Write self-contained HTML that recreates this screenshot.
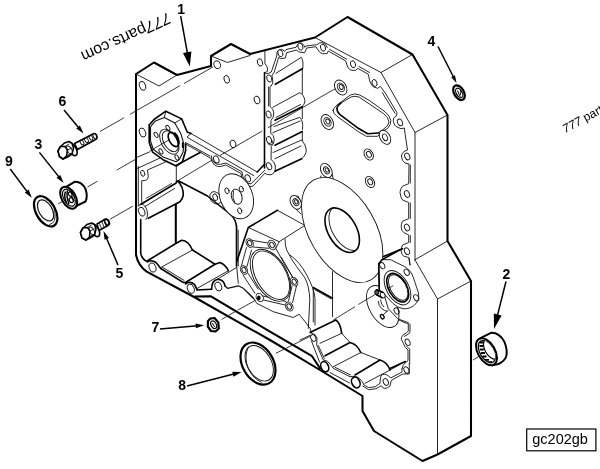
<!DOCTYPE html>
<html>
<head>
<meta charset="utf-8">
<title>gc202gb</title>
<style>
html,body{margin:0;padding:0;background:#fff;}
body{width:600px;height:469px;overflow:hidden;position:relative;font-family:"Liberation Sans",sans-serif;}
svg{position:absolute;left:0;top:0;display:block;will-change:transform;}
.k{fill:none;stroke:#000;stroke-width:2.05;stroke-linejoin:round;stroke-linecap:round;}
.m{fill:none;stroke:#000;stroke-width:1.6;stroke-linejoin:round;stroke-linecap:round;}
.t{fill:none;stroke:#111;stroke-width:0.9;stroke-linejoin:round;stroke-linecap:round;}
.f{fill:#fff;stroke:#111;stroke-width:0.9;stroke-linejoin:round;}
.fm{fill:#fff;stroke:#000;stroke-width:1.6;stroke-linejoin:round;}
.c{fill:none;stroke:#222;stroke-width:0.9;}
.n{font-family:"Liberation Sans",sans-serif;font-weight:bold;font-size:14px;fill:#000;}
.w{font-family:"Liberation Sans",sans-serif;font-size:16px;fill:#000;}
</style>
</head>
<body>
<svg width="600" height="469" viewBox="0 0 600 469">
<!-- 10_outline.svg -->
<g id="outline">
<path class="k" d="M136,255 L136,74 L154,62.5 L177,75 L211,66 L211,56 L231,44 L250,54 L315,37.5 L347.5,17 L412.5,54.5 L447.5,115 L447.5,241 L471,281 L471,436 L437.5,454.5 L422.5,461 L374,431 L362.5,411 L362.5,396 L320,370 L270,340 L195,297.5 L146.7,271.7 Q138.5,266 136,255"/>
<path class="k" d="M195,296.5 L211,296.3 L270,331.7 L311.7,355.8 L320,368.3"/>
</g>
<g id="side">
<path class="t" d="M136,74 L159,86 L177,75"/>
<path class="t" d="M211,56 L227.5,62.5 L250,55.5"/>
<path class="t" d="M315,37.5 L381,72.5 L415,132.5 L415,260 L437.5,299 L437.5,454.5"/>
<path class="t" d="M381,72.5 L412.5,54.5"/>
<path class="t" d="M415,132.5 L447.5,115"/>
<path class="t" d="M414.5,260 L447.5,241"/>
<path class="t" d="M437.5,299 L471,281"/>
</g>

<!-- 20_topleft.svg -->
<g id="topleft">
<!-- holes on front face -->
<ellipse class="f" cx="142.5" cy="85.8" rx="3" ry="4.6" transform="rotate(-18 142.5 85.8)"/>
<ellipse class="f" cx="142.5" cy="132.5" rx="3" ry="4.6" transform="rotate(-18 142.5 132.5)"/>
<ellipse class="f" cx="217.2" cy="64.7" rx="3.2" ry="4" transform="rotate(-18 217.2 64.7)"/>
<ellipse class="f" cx="226.7" cy="79.3" rx="2.6" ry="4" transform="rotate(-18 226.7 79.3)"/>
<ellipse class="f" cx="257" cy="100" rx="2.8" ry="4" transform="rotate(-18 257 100)"/>
<ellipse class="f" cx="260" cy="62.4" rx="2.5" ry="3.8" transform="rotate(-18 260 62.4)"/>
<ellipse class="f" cx="233" cy="144" rx="2.8" ry="4" transform="rotate(-18 233 144)"/>
<!-- thin vertical near gasket -->
<path class="t" d="M264.9,51 L264.9,63.5 Q267.5,66 267.5,69 L267.3,71.5 L264.5,72.7"/>
<path class="m" d="M264.5,72.7 L264.5,168"/>
</g>

<!-- 30_flange.svg -->
<g id="centerlines">
<!-- CL-A bolt 6 -->
<path class="c" d="M100,131.5 L124,117.8 M130,114.3 L180,85.7 M184,83.5 L213,66.9"/>
<!-- CL-B ring9 / bearing3 -->
<path class="c" d="M58,204 L62,201.7 M87.5,187 L97.5,181.2 M116.7,170.1 L136,159 M150,150.9 L170,139.3"/>
<!-- CL-C bolt 5 -->
<path class="c" d="M110,219.3 L133,206 M146,198.4 L172,183.3 M178.5,180.3 L212,160.1 M220,155.5 L262,131.1 M268,127.7 L336,88.2"/>
</g>
<g id="flange">
<!-- thin line from left edge to flange -->
<path class="t" d="M136.5,157.5 L149.8,151.8"/>
<!-- outer (back) outline of boss -->
<path class="m" d="M149.2,125.1 L154,119.5 L165.8,111.2 L181.7,118.9 L187.2,132 L191,133.5"/>
<path class="m" d="M149.2,125.1 L149.2,142.4 L152.6,152.1 L163,159.7 L176.2,166 L182.4,161.8 L185.6,150.7 L185.6,143.8"/>
<!-- front face outline -->
<path class="t" style="stroke-width:1.1" d="M151.2,125.8 L155.4,120.9 L164.4,117.5 L174.8,123 L181,134.1 L183.8,143.8 L183.1,152.1 L179.6,159 L176.2,161.8 L163,156.9 L153.3,149.3 L150.5,141 L150.5,127.2 Z"/>
<path class="t" d="M165.8,111.2 L164.4,117.5 M181.7,118.9 L174.8,123"/>
<!-- ring -->
<ellipse class="t" cx="169.3" cy="141.7" rx="7.9" ry="13.7" transform="rotate(-30 169.3 141.7)"/>
<ellipse class="t" cx="170.3" cy="141.2" rx="6.6" ry="11.4" transform="rotate(-30 170.3 141.2)"/>
<ellipse class="m" cx="173.5" cy="139.5" rx="4.3" ry="7.8" transform="rotate(-30 173.5 139.5)"/>
<path d="M174.5,132.5 Q180.5,137.5 178.3,146 Q178.5,139 174.5,132.5 Z" fill="#000" stroke="#000" stroke-width="1.3"/>
<!-- small holes -->
<ellipse class="t" cx="156.1" cy="134.8" rx="1.6" ry="2.9" transform="rotate(-30 156.1 134.8)"/>
<ellipse class="t" cx="167.9" cy="127.9" rx="1.6" ry="2.9" transform="rotate(-30 167.9 127.9)"/>
<ellipse class="t" cx="160.9" cy="151.4" rx="1.6" ry="2.9" transform="rotate(-30 160.9 151.4)"/>
<ellipse class="t" cx="176.9" cy="157.6" rx="1.6" ry="2.9" transform="rotate(-30 176.9 157.6)"/>
<path class="m" d="M182.6,143 L182.8,147.5"/>
<!-- arm -->
<path class="t" d="M191,133.5 L257.2,172"/>
<path class="t" d="M191,133.5 L187.3,136.8"/>
<path class="t" d="M187.5,137.5 L253.8,175.6"/>
<path class="t" d="M185.5,142.5 L210,156"/>
</g>

<!-- 40_leftpocket.svg -->
<g id="leftpocket">
<!-- second line next to left edge -->
<path class="t" d="M138.3,166.5 L138.3,206"/>
<!-- gasket outer line below flange -->
<path class="t" d="M137.5,168.3 L160.5,157.8"/>
<!-- gasket inner w/ boss -->
<path class="t" d="M167,161.3 L147.5,170 L148.3,176.7 Q147.8,180 145.8,180.3 L141.7,180.8 L141.7,202.5"/>
<ellipse class="f" cx="142.7" cy="173.3" rx="2" ry="3" transform="rotate(-18 142.7 173.3)"/>
<!-- vertical from flange bottom -->
<path class="t" d="M176.3,164.5 L176.3,182"/>
<path class="m" d="M177.5,164.8 L200.5,152.3"/>
<!-- rib 1 -->
<path class="m" d="M140.5,204.5 L175.8,183.3 L177.5,180.8 Q183.5,187 183.3,195 Q182.5,199.5 180,201.7 L148.3,218.3"/>
<path class="t" d="M145,206.5 L174.5,188.5"/>
<ellipse class="f" cx="141.7" cy="211.7" rx="3" ry="4.6" transform="rotate(-18 141.7 211.7)"/>
<path class="t" d="M138.5,206 Q140,203 143,204.5 Q147,207 147.5,214 Q147.5,218 146,219.5"/>
<!-- pocket wall -->
<path class="k" d="M175.8,204.5 L175.8,242"/>
<path class="m" d="M178.3,180.8 L207.5,196 L230,214 Q236,219 236.5,227 L236.5,266"/>
<!-- inner gasket line going down left -->
<path class="m" d="M140.7,219.5 L140.7,253 Q141.5,259 147.5,261.7"/>
<!-- rib 2 -->
<ellipse class="f" cx="152.5" cy="267.5" rx="3.3" ry="4.8" transform="rotate(-18 152.5 267.5)"/>
<path class="m" d="M147.5,261.7 Q152,259.5 156,262.5 Q159,266 160.8,268.5"/>
<path class="m" d="M147.5,260.8 L175.8,243.5 L181.7,240.2 Q188.5,240.5 192.5,250"/>
<path class="t" d="M192.5,250 L160.8,267.5"/>
<path class="m" d="M192.5,250 L215,264.2"/>
<path class="m" d="M160.8,268.5 L182.5,282 Q185,283 186.7,282"/>
<path class="t" d="M162.5,267.3 L184,280.3"/>
<!-- rib 3 -->
<path class="m" d="M186.7,281.7 L215,264.2 L220,262.5 Q226,265 228.3,270.8"/>
<path class="t" d="M228.3,270.8 L197,288.5"/>
<ellipse class="f" cx="190.8" cy="288.8" rx="3.3" ry="4.8" transform="rotate(-18 190.8 288.8)"/>
<path class="m" d="M185.5,284 Q190,280.5 194.5,284.5 Q196.5,288 197,290 L211.5,289.2"/>
<!-- rib 4 -->
<ellipse class="f" cx="218.3" cy="286.5" rx="3.2" ry="4.6" transform="rotate(-18 218.3 286.5)"/>
<path class="m" d="M211.7,289.2 Q211.5,280.5 217.5,279.2 Q224,279.5 225,286"/>
<path class="t" d="M225,286 L227.5,288.3 L238.3,285.8 L243.3,288.3 L253.5,298.5" style="stroke-width:1.2"/>
<path class="t" d="M217.5,279.2 L236.5,267.5"/>
<path class="t" d="M236.7,225 L236.7,266.7 L238.3,283.3"/>
<path class="t" d="M238.2,230 L238.2,266"/>
</g>

<!-- 50_arm_disc.svg -->
<g id="arm">
<!-- lower wavy edge of arm with bosses: outer c' -->
<path class="t" d="M186,144.2 L210.8,158.3 Q211.8,162.5 214.5,165 Q217.5,167.3 221,166.4 L225.8,165 L241,173.5 Q241.3,179.5 244.5,183.8 Q247.5,186.8 251,186.5 L253,186 L264.8,173.3 Q267,175 271,174.8 Q274.5,173.5 275.3,170 L275.3,166"/>
<!-- inner c -->
<path class="t" d="M211.3,155.8 Q211.5,159.5 213.8,162.3 Q217,165.3 220.5,164.3 L226,163 L242,171.8 Q242.3,177 245,181 Q247.5,184.3 251,183.8 L264.7,170.3"/>
<ellipse class="f" cx="216.3" cy="159.4" rx="2.5" ry="3.7" transform="rotate(-25 216.3 159.4)"/>
<ellipse class="f" cx="247.8" cy="178.3" rx="2.5" ry="3.7" transform="rotate(-25 247.8 178.3)"/>
<ellipse class="f" cx="269.1" cy="166.2" rx="2.4" ry="3.6" transform="rotate(-25 269.1 166.2)"/>
<ellipse class="f" cx="269.8" cy="141.5" rx="2.4" ry="3.6" transform="rotate(-18 269.8 141.5)"/>
</g>
<g id="disc">
<ellipse class="f" cx="236.2" cy="196.2" rx="16.2" ry="23.3" transform="rotate(-22 236.2 196.2)"/>
<ellipse class="t" cx="236.7" cy="196.7" rx="5.2" ry="7.8" transform="rotate(-18 236.7 196.7)"/>
<path class="t" d="M233.5,191 Q231.5,197 235,203.5"/>
<ellipse class="t" cx="227" cy="190.8" rx="2" ry="3" transform="rotate(-18 227 190.8)"/>
<ellipse class="t" cx="241.3" cy="189.2" rx="2" ry="3" transform="rotate(-18 241.3 189.2)"/>
<ellipse class="t" cx="239.7" cy="210.8" rx="2" ry="3" transform="rotate(-18 239.7 210.8)"/>
<!-- lug left -->
<path class="t" d="M219.8,195 Q216,190.5 212,192 Q209,194 210,198.5 Q212,203.5 216.5,204 Q219,204 220.5,202.5"/>
<ellipse class="t" cx="215.2" cy="197.2" rx="2.3" ry="3.5" transform="rotate(-18 215.2 197.2)"/>
</g>

<!-- 55_ribs.svg -->
<g id="ribs">
<!-- left band outer: thick vertical, then to arm -->
<path class="m" d="M264.6,164.3 L257.2,172"/>
<!-- inner band line with bosses -->
<path class="t" d="M271.5,85.5 L270,86.5 L270,106.5 Q273.5,108.5 273.8,113 Q274,117.5 271,120.5 L270.7,133 Q274,135 274.2,139.5 Q274.2,144 271.3,146.5 L271,159.5 Q274.8,161.5 275.3,166"/>
<path class="t" d="M268.6,87 L268.6,106"/>
<ellipse class="f" cx="269.3" cy="78.5" rx="2.4" ry="3.7" transform="rotate(-18 269.3 78.5)"/>
<ellipse class="f" cx="268.6" cy="114.5" rx="2.4" ry="3.7" transform="rotate(-18 268.6 114.5)"/>
<ellipse class="f" cx="269" cy="140" rx="2.4" ry="3.7" transform="rotate(-18 269 140)"/>
<!-- rib1 -->
<path class="t" d="M276,73.3 L301.3,57.3 Q303.8,61 302.7,68.7"/>
<path class="m" d="M275.3,84.3 L302.3,68.7"/>
<path class="t" d="M302.3,68.7 L302.3,93.5"/>
<!-- rib2 -->
<path class="t" d="M272.8,107.3 L299.7,92.7 Q304,94.5 305,101 Q304.5,104.5 302.3,106.5"/>
<path class="t" d="M276,117.5 L300.5,104.5"/>
<path class="m" d="M275,120.3 L302.3,106.7"/>
<path class="t" d="M302.3,106.7 L302.3,118.5"/>
<!-- rib3 -->
<path class="t" d="M274,126.5 L299.7,117.3 Q303.5,120.5 302.5,129.5"/>
<path class="t" d="M272.8,132.7 L300,121"/>
<path class="m" d="M275,145.3 L302.3,131.5"/>
<path class="t" d="M302.3,131.5 L302.3,140.5"/>
<!-- rib4 -->
<path class="t" d="M273,152.5 L301.7,140 Q306,145 306.3,150 Q306,155.5 301.7,158.7"/>
<path class="t" d="M275,158.7 L301,146"/>
<path class="m" d="M275,171.3 L301.7,158.7"/>
</g>

<!-- 60_topgasket.svg -->
<g id="topgasket">
<!-- outer line from boss A up and along top -->
<path class="t" d="M264.6,72.7 Q266,74.2 268.7,73.3 L271.3,72 L276.7,56 Q276.5,51 278.7,50 Q282,48 284.7,51.3 L286,49.5 L296,47.3 Q297.5,43.5 300,43 Q303.5,43 304.7,47.3 L306,46 L316.7,44.7 Q319.5,42.5 322,42.5 Q326.5,43.5 327.3,47.5"/>
<!-- inner line -->
<path class="t" d="M271.5,85.5 Q273.5,83 272.7,80.7 L272,75.3 L274,72.7 L278.7,57.3 L280.7,58.7 L285.3,58 L286.7,52.7 L296.7,50 L298.7,52 L304.7,52.7 L306.7,48 L316,46.7 L318,50 Q320,53.5 322.7,53.7 L327,53.7 L328.3,51 L345.7,61 L347.7,67 Q349.5,70.3 351.7,70.3 L355.7,70.3 L357.7,68.3 L368.3,74.3 L369.7,81 Q371.5,86 373.7,87 L377.7,88.3 L380.3,86.3 L385.7,93.7"/>
<!-- second (double) line -->
<path class="t" d="M329.5,49.3 L346.7,59.3 M359,66.5 L369.5,72.5"/>
<ellipse class="f" cx="280.4" cy="53.3" rx="2.4" ry="3.6" transform="rotate(-18 280.4 53.3)"/>
<ellipse class="f" cx="300.4" cy="46.6" rx="2.4" ry="3.6" transform="rotate(-18 300.4 46.6)"/>
<ellipse class="f" cx="323" cy="47.7" rx="2.4" ry="3.6" transform="rotate(-18 323 47.7)"/>
<ellipse class="f" cx="353" cy="64.2" rx="2.4" ry="3.6" transform="rotate(-18 353 64.2)"/>
<ellipse class="f" cx="374.5" cy="83" rx="2.4" ry="3.6" transform="rotate(-18 374.5 83)"/>
</g>

<!-- 62_slot_disc.svg -->
<g id="slot">
<path class="t" d="M333,110.3 Q334,107.5 337,105 L350.3,95 Q355,92.8 359.7,95 L369,100.3 L385,111.7 Q390,116 390.8,120.5 Q391,125 387.7,128.3 L381,132.3 L377.7,136.3 L366.3,136.3 L358.3,131.7 L337,116.3 Q333,113.5 333,110.3 Z"/>
<path class="m" d="M378.3,133 L367.7,133.7 L358.3,128.3 L339.7,114.3 Q336.5,111 337,107.5 Q338.5,104.5 341,103"/>
<path class="t" d="M341,103 L351,97 Q355,95.5 359,97 L383.7,113.7 Q388.5,117.5 389,122 Q388.5,126 383.7,129 L378.3,133"/>
<!-- lug -->
<ellipse class="f" cx="385" cy="137.3" rx="5" ry="7.6" transform="rotate(-30 385 137.3)"/>
<ellipse class="t" cx="385" cy="137.3" rx="2.3" ry="3.5" transform="rotate(-25 385 137.3)"/>
</g>
<g id="csk">
<ellipse class="f" cx="340.7" cy="87.5" rx="5.6" ry="8" transform="rotate(-30 340.7 87.5)"/>
<ellipse class="t" cx="340.9" cy="87.3" rx="3.3" ry="4.6" transform="rotate(-30 340.9 87.3)"/>
<ellipse class="t" cx="341.2" cy="87" rx="1.8" ry="2.6" transform="rotate(-30 341.2 87)"/>
<ellipse class="f" cx="327.3" cy="122" rx="5.6" ry="8" transform="rotate(-30 327.3 122)"/>
<ellipse class="t" cx="327.5" cy="121.8" rx="3.3" ry="4.6" transform="rotate(-30 327.5 121.8)"/>
<ellipse class="t" cx="327.8" cy="121.5" rx="1.8" ry="2.6" transform="rotate(-30 327.8 121.5)"/>
<ellipse class="f" cx="368.7" cy="154.5" rx="4.2" ry="6" transform="rotate(-30 368.7 154.5)"/>
<ellipse class="t" cx="368.9" cy="154.3" rx="2.2" ry="3.2" transform="rotate(-30 368.9 154.3)"/>
<ellipse class="f" cx="370" cy="182" rx="4.2" ry="6" transform="rotate(-30 370 182)"/>
<ellipse class="t" cx="370.2" cy="181.8" rx="2.2" ry="3.2" transform="rotate(-30 370.2 181.8)"/>
</g>
<g id="bigdisc">
<!-- lugs behind disc -->
<path class="t" d="M320.8,176 L321.3,183 M332,173.5 L333.7,181.3"/>
<ellipse class="f" cx="326.3" cy="170.5" rx="5.2" ry="7.6" transform="rotate(-30 326.3 170.5)"/>
<ellipse class="t" cx="326.5" cy="170.3" rx="2.6" ry="3.8" transform="rotate(-30 326.5 170.3)"/>
<ellipse class="t" cx="326.8" cy="170" rx="1.5" ry="2.2" transform="rotate(-30 326.8 170)"/>
<path class="t" d="M298,196 L302.5,206 M296,209.3 L301,214"/>
<ellipse class="f" cx="295.7" cy="202.3" rx="5" ry="7.4" transform="rotate(-30 295.7 202.3)"/>
<ellipse class="t" cx="295.9" cy="202.1" rx="2.6" ry="3.8" transform="rotate(-30 295.9 202.1)"/>
<ellipse class="t" cx="296.2" cy="201.8" rx="1.5" ry="2.2" transform="rotate(-30 296.2 201.8)"/>
<ellipse class="f" cx="342.2" cy="230" rx="33.2" ry="57.5" transform="rotate(-30 342.2 230)"/>
<clipPath id="boreclip"><ellipse cx="342.2" cy="230.2" rx="14.1" ry="24.4" transform="rotate(-30 342.2 230.2)"/></clipPath>
<ellipse class="m" cx="342.2" cy="230.2" rx="14.1" ry="24.4" transform="rotate(-30 342.2 230.2)"/>
<g clip-path="url(#boreclip)"><ellipse class="t" cx="346.2" cy="228.2" rx="14.1" ry="24.4" transform="rotate(-30 346.2 228.2)"/></g>
</g>
<g id="rightgasket">
<path class="t" d="M385.7,93.7 L397,112.7 L396.3,116 L393.7,118 Q393,120.5 393.7,122.7 Q394.5,125.5 396.3,126.7 L401,128.7 L404.3,128 L405,133.3 L406.3,142 L407.5,150 Q402,151.5 401.5,156 Q401.5,161 405,163 L409,164 L408.7,183.7 L402.5,186.2 Q400,189 400,192.5 Q400.5,197.5 402.5,200 L408.7,202.5 L408.7,218.7 L402.5,221.2 Q401,224 401.2,227.5 Q401.5,230.5 403.7,232.5 L408.7,235 L408.7,242.5 L402.5,245 Q401,248 401.2,251.2 Q401.5,254.5 403.7,256.2 L408.7,257.5 L410,265"/>
<path class="t" d="M382.3,92.7 L395,113.3"/>
<path class="t" d="M410.3,165 L410.3,183 M410.3,203 L410.3,218.5 M410.3,235.5 L410.3,242.5"/>
<ellipse class="f" cx="400" cy="122.4" rx="2.4" ry="3.5" transform="rotate(-25 400 122.4)"/>
<ellipse class="f" cx="407.3" cy="156.5" rx="2.4" ry="3.5" transform="rotate(-25 407.3 156.5)"/>
<ellipse class="f" cx="407" cy="194" rx="2.4" ry="3.5" transform="rotate(-25 407 194)"/>
<ellipse class="f" cx="407" cy="227.5" rx="2.4" ry="3.5" transform="rotate(-25 407 227.5)"/>
<ellipse class="f" cx="407" cy="251.2" rx="2.4" ry="3.5" transform="rotate(-25 407 251.2)"/>
</g>

<!-- 65_center.svg -->
<g id="box">
<path class="m" d="M236.7,261.7 L248.3,227.5 L277.5,210.3"/>
<path class="t" d="M277.5,210.3 L304.2,225"/>
<path class="t" d="M248.3,227.5 L279.2,241.7 L304.2,225.8"/>
<!-- curves below box -->
<path class="t" d="M279.2,241.7 Q277,246 275.8,248.3 L285,265 L293.3,278"/>
<path class="t" d="M285,239 Q285,246 286.7,250 Q291,259 296.7,266.7 L305,278 Q309.5,287 309.8,300 L308.3,328.3"/>
<path class="t" d="M290,255 Q300,262 306.7,275 Q314,288 315,298.3 L315,325"/>
</g>
<g id="ovalport">
<!-- bands between holes -->
<path class="t" d="M252.5,240.5 L268,243 M253,247 L268.5,248.3"/>
<path class="t" d="M246.5,247.5 L241.5,265.5 M251.5,250 L246.8,267"/>
<path class="t" d="M243,275 L255,293.3 M247.5,272.5 L258,289"/>
<path class="t" d="M263.5,300 L285,305 M263,296 L286,301.5"/>
<path class="t" d="M292.5,302.5 L296.5,286 M288.5,301 L292,286"/>
<path class="t" d="M292.5,277 L281.5,257.5"/>
<!-- inner oval double -->
<ellipse class="f" cx="270.4" cy="275.3" rx="16.5" ry="28.5" transform="rotate(-30 270.4 275.3)"/>
<ellipse class="t" cx="271" cy="275.2" rx="15" ry="26.6" transform="rotate(-30 271 275.2)"/>
<!-- holes -->
<ellipse class="f" cx="249.7" cy="243" rx="3.3" ry="4.6" transform="rotate(-30 249.7 243)"/>
<ellipse class="t" cx="249.7" cy="243" rx="1.9" ry="2.8" transform="rotate(-30 249.7 243)"/>
<ellipse class="f" cx="272" cy="245" rx="3.6" ry="5" transform="rotate(-30 272 245)"/>
<ellipse class="t" cx="272" cy="245" rx="2" ry="3" transform="rotate(-30 272 245)"/>
<ellipse class="f" cx="244" cy="270" rx="3.3" ry="4.6" transform="rotate(-30 244 270)"/>
<ellipse class="t" cx="244" cy="270" rx="1.9" ry="2.8" transform="rotate(-30 244 270)"/>
<ellipse class="f" cx="294.2" cy="281.7" rx="3.3" ry="4.6" transform="rotate(-30 294.2 281.7)"/>
<ellipse class="t" cx="294.2" cy="281.7" rx="1.9" ry="2.8" transform="rotate(-30 294.2 281.7)"/>
<ellipse class="f" cx="289.2" cy="306.5" rx="3.5" ry="4.8" transform="rotate(-30 289.2 306.5)"/>
<ellipse class="t" cx="289.2" cy="306.5" rx="2" ry="2.9" transform="rotate(-30 289.2 306.5)"/>
<ellipse class="f" cx="259.7" cy="297.5" rx="3.3" ry="4.4" transform="rotate(-30 259.7 297.5)"/>
<ellipse cx="258.8" cy="298" rx="1.8" ry="2.4" fill="#000"/>
<!-- lower gasket line -->
<path class="t" d="M243.3,288.3 L253.3,297.5 L256.7,303.3 L273.3,311.7 L293.3,317.5 L299.2,314.2 L305,321.7 L310,328.3 L311.5,333"/>
<!-- CL7 -->
<path class="c" d="M221.5,319.5 L235,311.7 M237.7,310.2 L255.5,300.2"/>
</g>
<g id="web">
<path class="t" d="M332.5,271.7 L332.5,316.7"/>
<path class="m" d="M313.3,287.5 L332.5,298.3"/>
<path class="t" d="M313.3,287.5 L313.3,322"/>
<path class="t" d="M315,289.8 L331,298.8"/>
</g>

<!-- 70_right.svg -->
<g id="smalldisc">
<ellipse class="f" cx="382.7" cy="306.5" rx="13.3" ry="23" transform="rotate(-30 382.7 306.5)"/>
</g>
<g id="brghousing">
<!-- flange -->
<path class="f" d="M382,259.7 L390.7,259.7 L404,266.3 Q411,270 413.5,278 L418.5,293 Q420,299 416.5,303 Q411,309.5 403,308.7 Q397,307.5 393,303.5 L383.7,293.3 L379.3,290.3 L378.7,263.7 Z"/>
<path class="m" d="M400,249.7 L382,259.7 L378.7,263.7 L379.3,290.3"/>
<path class="t" d="M383.7,293.3 L388.3,308.7 L397.7,318.7 L408.3,322.7"/>
<!-- bore -->
<ellipse class="t" cx="397.5" cy="287.7" rx="11" ry="18.8" transform="rotate(-30 397.5 287.7)"/>
<ellipse class="m" cx="397.7" cy="287.7" rx="9" ry="15.6" transform="rotate(-30 397.7 287.7)"/>
<ellipse class="t" cx="398.2" cy="287.5" rx="7.8" ry="14" transform="rotate(-30 398.2 287.5)"/>
<path class="c" d="M387.3,289 L393.3,285.7"/>
<!-- holes -->
<ellipse class="t" cx="382.3" cy="265.7" rx="2.3" ry="3.3" transform="rotate(-30 382.3 265.7)"/>
<ellipse class="t" cx="406.7" cy="272.3" rx="2.3" ry="3.3" transform="rotate(-30 406.7 272.3)"/>
<ellipse class="t" cx="416.2" cy="297.8" rx="2.3" ry="3.3" transform="rotate(-30 416.2 297.8)"/>
<ellipse class="t" cx="396.6" cy="311" rx="2.3" ry="3.3" transform="rotate(-30 396.6 311)"/>
<!-- studs -->
<ellipse cx="376.7" cy="292.3" rx="2" ry="2.6" fill="#555" stroke="#000" stroke-width="1"/>
<ellipse class="f" cx="382.7" cy="295" rx="2.2" ry="3" transform="rotate(-30 382.7 295)"/>
<path class="m" d="M376.7,289.8 L382.7,292.2 M376.7,294.8 L382,297.8"/>
<!-- small arcs -->
<path class="t" d="M378.3,301.3 Q378.5,306 381.7,308.5 Q384,310.8 387,311.3"/>
<path class="t" d="M380.5,300 Q381,304.5 383.7,306.8"/>
<ellipse cx="382.3" cy="316.7" rx="1.6" ry="2.4" fill="none" stroke="#000" stroke-width="1.3" transform="rotate(-30 382.3 316.7)"/>
<path class="t" d="M383.5,314.5 L388,310.5"/>
<!-- CL -->
<path class="c" d="M333.3,320 L355,306.7 M358.3,304.5 L375,294.5"/>
<!-- gasket pieces -->
<path class="t" d="M410,265 L409.3,258.3"/>
<path class="t" d="M399,320 L406.3,323.3 L408.3,323.3 L408.3,331 L406.7,332.7 L402.7,335.3 Q401,337.5 401.3,339.3 L403.3,343.3 L405.3,347.3 L408,350 L408,360.7 L405.3,362.7 Q402.5,365 402,368.7"/>
<path class="t" d="M410,324 L410,332 L408.5,334 L404.5,336.3 M407,346.5 L409.7,349.3 L409.7,363.5"/>
<ellipse class="f" cx="407.6" cy="342.3" rx="2.3" ry="3.4" transform="rotate(-25 407.6 342.3)"/>
<ellipse class="f" cx="406.4" cy="370" rx="2.3" ry="3.4" transform="rotate(-25 406.4 370)"/>
<!-- disc to housing line -->
<path class="m" d="M383.5,256.5 L402.5,248.7"/>
</g>

<!-- 75_lower.svg -->
<g id="lowerribs">
<path class="t" d="M300,340 L310.8,335"/>
<!-- rib A -->
<path class="m" d="M310,332.5 L335.8,320 Q340.5,323 341.7,333.3"/>
<path class="t" d="M320,343.3 L341.7,333.3"/>
<path class="t" d="M341.7,333.3 L350,342.5"/>
<!-- rib B -->
<path class="m" d="M325,355.8 L350,342.5 Q357,344 360.8,352.5"/>
<path class="t" d="M333.3,366.7 L360.8,352.5"/>
<path class="t" d="M360.8,352.5 L380,360"/>
<!-- rib C -->
<path class="m" d="M355,375 L380,360 Q387,362 390,370"/>
<path class="t" d="M365,383.3 L390,370 L400,364.5"/>
<!-- gasket inner double with bosses -->
<path class="t" d="M311.5,333 Q316,334 317,338 L316.7,345 L323.3,360 Q328,360 330.8,365 L333.3,368.3 L350,376.7 Q356,375.5 359.5,378.5 Q361.5,380.5 362,381.3 L364,385 L368.7,387.6 L375.3,386.7 L380,383.3 Q380,378.5 381,376 Q384,372.5 388.7,376 L390.7,378 L402,372 L402,368.7"/>
<path class="t" d="M318.3,345.5 L324.3,358.5 M335,367.3 L350.5,375"/>
<path class="m" d="M390,368.5 L405.3,361.5"/>
<ellipse class="f" cx="313.3" cy="338" rx="2.4" ry="3.5" transform="rotate(-25 313.3 338)"/>
<ellipse class="fm" cx="324.7" cy="366.7" rx="3.7" ry="5.3" transform="rotate(-25 324.7 366.7)"/>
<ellipse class="fm" cx="355.8" cy="382.5" rx="4" ry="5.6" transform="rotate(-25 355.8 382.5)"/>
<ellipse class="f" cx="385.8" cy="382" rx="2.4" ry="3.5" transform="rotate(-25 385.8 382)"/>
<!-- outer gasket line -->
<path class="t" d="M311.5,341 L319.5,362 M330,372.5 L349.5,383 M362.7,386 L368.7,389.7 L376,388.7 L381.3,385.7 Q384,391 390,386 L391.3,380.4 L402.7,374 L409.3,374 L409.3,363.5"/>
<!-- CL8 -->
<path class="c" d="M275.8,353.3 L311,336"/>
</g>

<!-- 80_loose.svg -->
<g id="bolt6">
<!-- shaft -->
<path class="fm" d="M74.5,143.5 L94,133.5 Q96.5,133.5 96.8,136.5 Q96.8,138.3 96.5,139 L77.5,149.5 Z"/>
<ellipse class="t" cx="95" cy="136.2" rx="1.7" ry="3" transform="rotate(-30 95 136.2)"/>
<ellipse class="t" cx="82" cy="142.5" rx="1.6" ry="2.6" transform="rotate(-30 82 142.5)"/>
<ellipse class="t" cx="86.5" cy="140.2" rx="1.6" ry="2.6" transform="rotate(-30 86.5 140.2)"/>
<ellipse class="t" cx="91" cy="137.8" rx="1.6" ry="2.6" transform="rotate(-30 91 137.8)"/>
<!-- flange -->
<ellipse class="fm" cx="72.5" cy="149.3" rx="3.6" ry="7" transform="rotate(-30 72.5 149.3)"/>
<!-- head body -->
<path class="fm" d="M60.5,146.5 L64.5,143 L69,141.5 L72,143.2 L73.5,148 L72,154 L67.5,157 L63,159 L59.5,156.5 L58,151 Z"/>
<path class="fm" d="M58,151 L60.5,146.5 L65,146.5 L67.5,150 L66.5,156 L63,159 L59.5,156.5 Z"/>
<path class="t" d="M65,146.5 L69,144 M67.5,150 L71.5,148 M66.5,156 L70.5,153.5"/>
<ellipse class="t" cx="69.5" cy="150" rx="2.2" ry="4.4" transform="rotate(-30 69.5 150)"/>
</g>
<g id="bolt5">
<path class="fm" d="M97,224 L105,219.3 Q108.5,219 109,222 Q109,224.5 108,225.5 L99,230.5 Z"/>
<ellipse class="m" cx="107" cy="222.2" rx="2" ry="3.3" transform="rotate(-30 107 222.2)"/>
<path class="t" d="M99.5,223.5 L101.5,228.5 M102,222 L104,227 M104.3,220.8 L106,225.5"/>
<ellipse class="fm" cx="95" cy="230.3" rx="3.6" ry="7" transform="rotate(-30 95 230.3)"/>
<path class="fm" d="M83,228 L87,224.5 L91.5,223 L94.5,224.5 L96,229 L94.5,235 L90,238 L86,240 L82,238 L80.5,232.5 Z"/>
<path class="fm" d="M80.5,232.5 L83,228 L87.5,227.5 L90,231 L89.5,237 L86,240 L82,238 Z"/>
<path class="t" d="M87.5,227.5 L91.5,225 M90,231 L94,229 M89.5,237 L93.5,234.5"/>
<ellipse class="t" cx="92" cy="231" rx="2.2" ry="4.4" transform="rotate(-30 92 231)"/>
</g>
<g id="ring9">
<ellipse cx="45.7" cy="211.3" rx="9.6" ry="16.6" transform="rotate(-30 45.7 211.3)" fill="#fff" stroke="#000" stroke-width="2.2"/>
<ellipse class="t" cx="45.6" cy="210.4" rx="6.6" ry="11.6" transform="rotate(-30 45.6 210.4)" style="stroke-width:1.2"/>
<path class="t" d="M52.5,203.5 Q56.5,212 54.5,220.5 Q53,224 49.5,224.5"/>
</g>
<g id="brg3">
<path d="M64.5,187.8 L75,181.7 Q82,181.5 85.5,189 Q88,196.5 85.5,201.5 L73,207.7 Z" fill="#fff" stroke="#000" stroke-width="2" stroke-linejoin="round"/>
<ellipse cx="68.7" cy="197.7" rx="7" ry="12" transform="rotate(-30 68.7 197.7)" fill="#fff" stroke="#000" stroke-width="2"/>
<ellipse cx="68.9" cy="197.7" rx="5.2" ry="9.3" transform="rotate(-30 68.9 197.7)" fill="#fff" stroke="#000" stroke-width="1.2"/>
<path d="M65.5,191.5 Q63.5,196 66.5,203 M67.5,190.5 Q66,196 69,204 M70.5,190.5 L73,194 M71.5,196 L74,201" stroke="#000" stroke-width="1.5" fill="none"/>
<ellipse cx="70.2" cy="194.2" rx="1.6" ry="2.3" transform="rotate(-30 70.2 194.2)" fill="#fff" stroke="#000" stroke-width="1.2"/>
<ellipse cx="71.2" cy="200.2" rx="1.8" ry="2.6" transform="rotate(-30 71.2 200.2)" fill="#fff" stroke="#000" stroke-width="1.2"/>
</g>
<g id="plug4">
<ellipse cx="459" cy="92.7" rx="4.9" ry="8" transform="rotate(-30 459 92.7)" fill="#fff" stroke="#000" stroke-width="2.2"/>
<ellipse cx="459.2" cy="92.9" rx="2.9" ry="5.2" transform="rotate(-30 459.2 92.9)" fill="none" stroke="#000" stroke-width="1.2"/>
<path d="M457.5,90.5 Q459,95 460.5,96.5 M460.5,90 Q461.5,93 460,95" stroke="#000" stroke-width="1" fill="none"/>
</g>
<g id="nut7">
<path d="M210.5,318.5 L214.5,318 L218.3,322.5 L218.8,328.5 L215.5,331.5 L211,331 L207.8,326.5 L208,321 Z" fill="#fff" stroke="#000" stroke-width="2.2" stroke-linejoin="round"/>
<ellipse cx="213.7" cy="324.8" rx="2.6" ry="4" transform="rotate(-30 213.7 324.8)" fill="none" stroke="#000" stroke-width="1.2"/>
<path d="M212.5,323 Q213.5,326 215,327" stroke="#000" stroke-width="1" fill="none"/>
</g>
<g id="ring8">
<ellipse cx="258" cy="363.6" rx="15.4" ry="22.6" transform="rotate(-30 258 363.6)" fill="#fff" stroke="#000" stroke-width="2.2"/>
<ellipse class="t" cx="259.2" cy="363.3" rx="12" ry="19.3" transform="rotate(-30 259.2 363.3)"/>
<path class="t" d="M248.3,347 Q243.5,357 248.5,369 Q253,378.5 261.5,382.3"/>
</g>
<g id="brg2">
<path d="M480.5,338.2 L491,332.8 Q499.5,332.5 504.5,342 Q508,351 506,357 Q504.5,361 498.5,364 L492,365.2 Z" fill="#fff" stroke="#000" stroke-width="2" stroke-linejoin="round"/>
<ellipse cx="486.5" cy="351.7" rx="8.6" ry="14.8" transform="rotate(-30 486.5 351.7)" fill="#fff" stroke="#000" stroke-width="2"/>
<ellipse cx="486.8" cy="351.7" rx="6.8" ry="12.2" transform="rotate(-30 486.8 351.7)" fill="#fff" stroke="#000" stroke-width="1.2"/>
<clipPath id="b2clip"><ellipse cx="486.8" cy="351.7" rx="6.8" ry="12.2" transform="rotate(-30 486.8 351.7)"/></clipPath>
<g clip-path="url(#b2clip)">
<ellipse cx="491" cy="349.2" rx="6" ry="11" transform="rotate(-30 491 349.2)" fill="#fff" stroke="#000" stroke-width="1.2"/>
<path d="M480,342.5 L483.5,342.5 M479.5,346 L483.2,346 M480,349.5 L483.8,349.5 M481,353 L485,353 M482.5,356.5 L486.5,356.5 M484.5,359.8 L489,359.8 M487.5,362.5 L492,362" stroke="#000" stroke-width="1.8" fill="none"/>
</g>
<path class="c" d="M473,360 L478,357"/>
</g>

<!-- 90_labels.svg -->
<g id="labels">
<text class="n" x="177.2" y="14.2">1</text>
<text class="n" x="502.6" y="278.5">2</text>
<text class="n" x="34.5" y="149.3">3</text>
<text class="n" x="427.6" y="45.8">4</text>
<text class="n" x="115.5" y="278.4">5</text>
<text class="n" x="58.5" y="106.3">6</text>
<text class="n" x="151.5" y="331.7">7</text>
<text class="n" x="178.3" y="390">8</text>
<text class="n" x="5" y="166">9</text>
</g>
<rect x="526.7" y="429" width="69.2" height="21.8" fill="#fff" stroke="#000" stroke-width="1.2"/>
<text x="532.3" y="443.6" style="font-family:'Liberation Sans',sans-serif;font-size:14.5px;fill:#000;">gc202gb</text>
<text class="w" transform="translate(168,12.3) rotate(155.5)"><tspan font-style="italic">777</tspan>parts.com</text>
<text class="w" style="font-size:12px" transform="translate(565.3,133.2) rotate(-29)"><tspan font-style="italic">777</tspan> parts.com</text>
<g id="arrows">
<line x1="180.7" y1="16.2" x2="187.6" y2="54.2" stroke="#000" stroke-width="1.5"/><polygon points="189.8,66.5 183.0,53.0 191.4,51.5" fill="#000"/>
<line x1="506.0" y1="281.5" x2="497.2" y2="316.4" stroke="#000" stroke-width="1.5"/><polygon points="494.0,329.0 493.8,313.5 501.6,315.4" fill="#000"/>
<line x1="39.4" y1="152.4" x2="59.7" y2="177.9" stroke="#000" stroke-width="1.5"/><polygon points="63.7,183.0 56.5,177.8 60.3,174.9" fill="#000"/>
<line x1="438.0" y1="46.5" x2="454.0" y2="78.0" stroke="#000" stroke-width="1.5"/><polygon points="456.5,82.9 451.2,77.2 455.0,75.2" fill="#000"/>
<line x1="118.0" y1="265.0" x2="106.0" y2="237.0" stroke="#000" stroke-width="1.5"/><polygon points="103.5,231.0 109.0,237.9 104.6,239.8" fill="#000"/>
<line x1="64.0" y1="110.0" x2="79.3" y2="128.5" stroke="#000" stroke-width="1.5"/><polygon points="83.5,133.5 76.2,128.5 79.9,125.4" fill="#000"/>
<line x1="160.0" y1="329.0" x2="197.7" y2="325.8" stroke="#000" stroke-width="1.5"/><polygon points="204.2,325.2 195.9,328.3 195.5,323.5" fill="#000"/>
<line x1="187.0" y1="386.0" x2="234.8" y2="373.7" stroke="#000" stroke-width="1.5"/><polygon points="241.6,372.0 233.5,376.7 232.3,371.8" fill="#000"/>
<line x1="10.2" y1="169.0" x2="27.9" y2="192.6" stroke="#000" stroke-width="1.5"/><polygon points="31.8,197.8 24.8,192.4 28.6,189.6" fill="#000"/>
</g>
</svg>
</body>
</html>
